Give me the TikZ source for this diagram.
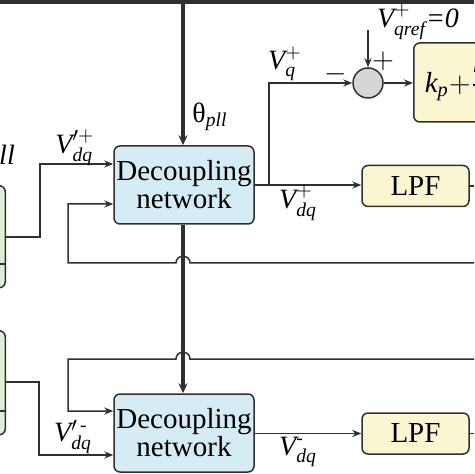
\documentclass[tikz,border=0pt]{standalone}
\usepackage{amsmath}
\usepackage{fontspec}
\setmainfont{Liberation Serif}
\usetikzlibrary{arrows.meta}
\definecolor{decblue}{HTML}{D5ECF4}
\definecolor{lpfyel}{HTML}{FBF6D2}
\definecolor{grnbox}{HTML}{DFEED8}
\definecolor{sumgray}{HTML}{D6D6D6}
\definecolor{ln}{HTML}{303030}
\tikzset{
  base/.style={draw=ln, line width=0.75pt, rounded corners=3pt, font=\fontsize{14.5}{14}\selectfont, inner sep=0pt},
  decbox/.style={base, fill=decblue, minimum width=70pt, minimum height=39pt, align=center},
  lpfbox/.style={base, fill=lpfyel, minimum width=53.5pt, minimum height=20.5pt},
  pibox/.style={base, fill=lpfyel, minimum height=39.5pt, text width=56pt, inner xsep=5.5pt, align=left, anchor=west},
  grn/.style={base, fill=grnbox, minimum width=13pt, anchor=north east},
  sumnode/.style={circle, draw=ln, line width=0.75pt, fill=sumgray, minimum size=15pt, inner sep=0pt},
  sig/.style={draw=ln, line width=0.75pt, -{Stealth[length=4.5pt,width=3.6pt]}},
  wire/.style={draw=ln, line width=0.75pt},
  thickw/.style={draw=ln, line width=1.7pt},
  thicka/.style={draw=ln, line width=1.7pt, -{Stealth[length=5pt,width=4.5pt]}},
  lbl/.style={font=\fontsize{14}{14}\selectfont, inner sep=0pt}
}
\begin{document}
\begin{tikzpicture}[x=0.5pt,y=-0.5pt]
\useasboundingbox (0,0) rectangle (474,474);
% blocks
\node[decbox] (dec1) at (184,185) {Decoupling\\network};
\node[decbox] (dec2) at (184,433) {Decoupling\\network};
\node[lpfbox] (lpf1) at (415.5,186) {LPF};
\node[lpfbox] (lpf2) at (415.5,433.5) {LPF};
\node[pibox] (pi) at (413,82.5) {$\textit{k}_{\textit{p}}{+}\dfrac{\textit{k}_{\textit{i}}}{\textit{s}}$};
\node[sumnode] (sum) at (368,83) {};
\node[grn, minimum height=51pt] (gb1) at (6,185) {};
\node[grn, minimum height=52pt] (gb2) at (6,330) {};
\draw[wire] (gb1.west |- 0,264) -- (gb1.east |- 0,264);
\draw[wire] (gb2.west |- 0,411) -- (gb2.east |- 0,411);
% top bus and theta_pll
\coordinate (T0) at (0,2);
\coordinate (T1) at (474,2);
\coordinate (T2) at (183,2);
\draw[thickw] (T0) -- (T1);
\draw[thicka] (T2) -- (dec1.north -| T2);
\draw[thicka] (dec1.south -| T2) -- (dec2.north -| T2);
% upper inputs
\draw[sig] (gb1.east |- 0,237) -- (40,237) -- (40,164) -- (dec1.west |- 0,164);
\coordinate (F1) at (474,263);
\draw[sig] (F1) -- (190,263) .. controls (190,254) and (176,254) .. (176,263) -- (68,263) -- (68,204) -- (dec1.west |- 0,204);
% upper outputs
\coordinate (B1) at (269,185);
\draw[sig] (dec1.east |- B1) -- (lpf1.west |- B1);
\draw[sig] (B1) -- (269,83) -- (sum.west);
\coordinate (R1) at (368,30);
\draw[sig] (R1) -- (sum.north);
\draw[sig] (sum.east) -- (pi.west |- sum.east);
\coordinate (E1) at (474,186);
\draw[wire] (lpf1.east) -- (E1);
% lower inputs
\draw[sig] (gb2.east |- 0,382) -- (39,382) -- (39,455) -- (dec2.west |- 0,455);
\coordinate (F2) at (474,359);
\draw[sig] (F2) -- (190,359) .. controls (190,350) and (176,350) .. (176,359) -- (68,359) -- (68,411) -- (dec2.west |- 0,411);
% lower outputs
\draw[sig] (dec2.east |- lpf2.west) -- (lpf2.west);
\coordinate (E2) at (474,433.5);
\draw[wire] (lpf2.east) -- (E2);
% labels
\node[lbl] (th) at (210,117) {θ\textsubscript{\textit{pll}}};
\node[lbl] (ll) at (7,155) {\textit{ll}};
\node[lbl] (l1) at (75,148) {$\textit{V}^{\prime +}_{\textit{dq}}$};
\node[lbl] (l2) at (285,64) {$\textit{V}^{+}_{\textit{q}}$};
\node[lbl] (l3) at (298,203) {$\textit{V}^{+}_{\textit{dq}}$};
\node[lbl] (l4) at (418,22) {$\textit{V}^{+}_{\textit{qref}}\textit{=0}$};
\node[lbl] (pl) at (383,61) {$+$};
\node[lbl] (mi) at (336,74) {$-$};
\node[lbl] (l5) at (73,437) {$\textit{V}^{\prime\,\text{-}}_{\textit{dq}}$};
\node[lbl] (l6) at (298,452) {$\textit{V}^{\text{-}}_{\textit{dq}}$};
\end{tikzpicture}
\end{document}
